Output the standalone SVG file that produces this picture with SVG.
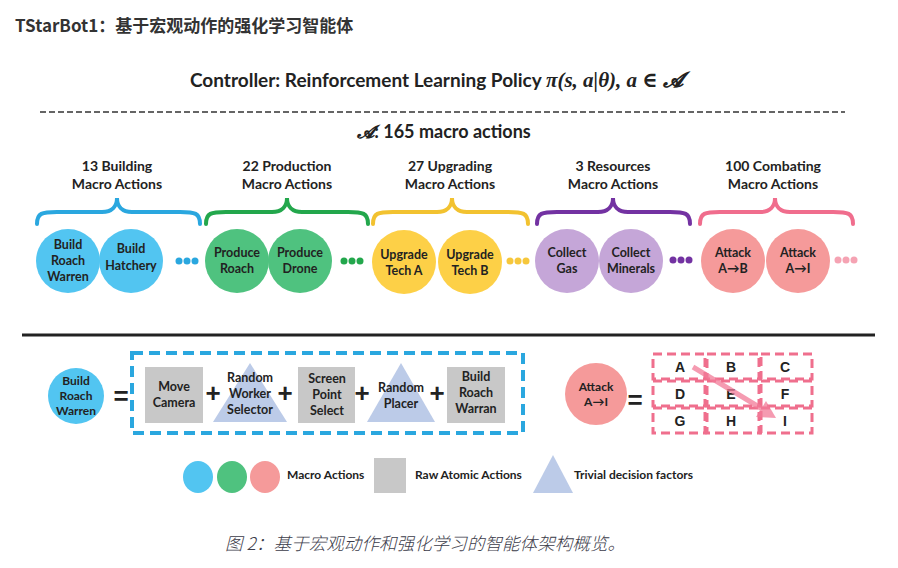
<svg xmlns="http://www.w3.org/2000/svg" width="898" height="568" viewBox="0 0 898 568">
<style>
text{font-family:Lato,"Open Sans","Noto Sans CJK SC",sans-serif;font-weight:bold;fill:#222;text-anchor:middle}
.ct{font-size:12.5px}
.gl{font-size:14px}
.br{fill:none;stroke-width:4;stroke-linecap:round}
.box{fill:#c8c8c8}
.tri{fill:#bccbe8}
.op{font-size:26px;font-family:"Liberation Sans",sans-serif}
.cell{fill:none;stroke:#ef6f8d;stroke-width:3;stroke-dasharray:9 5}
.gt{font-size:14px;font-family:"Liberation Sans",sans-serif}
.lg{font-size:12px;text-anchor:start}
.math{font-family:'Liberation Serif','DejaVu Serif',serif;font-style:italic}
</style>
<rect width="898" height="568" fill="#fff"/>
<text x="15" y="32" style="font-family:'Noto Sans CJK SC',sans-serif;font-size:17px;text-anchor:start;fill:#333">TStarBot1：基于宏观动作的强化学习智能体</text>
<text x="190" y="87" style="font-size:19px;text-anchor:start">Controller: Reinforcement Learning Policy <tspan class="math" style="font-size:21px">π(s, a|θ), a ∈ 𝓐</tspan></text>
<line x1="40" y1="112" x2="845" y2="112" stroke="#333" stroke-width="1.5" stroke-dasharray="6 3"/>
<text x="444" y="138" style="font-size:18px"><tspan class="math">𝓐</tspan>: 165 macro actions</text>

<g id="connectors">
<path class="br" stroke="#2aa7df" d="M37,224 C37,213 42,212 57,212 L102,212 C112,212 117,206 117,198 C117,206 122,212 132,212 L180,212 C195,212 200,213 200,224"/>
<path class="br" stroke="#23a74c" d="M206,224 C206,213 211,212 226,212 L272,212 C282,212 287,206 287,198 C287,206 292,212 302,212 L348,212 C363,212 368,213 368,224"/>
<path class="br" stroke="#f2c230" d="M373,224 C373,213 378,212 393,212 L437,212 C447,212 452,206 452,198 C452,206 457,212 467,212 L508,212 C523,212 528,213 528,224"/>
<path class="br" stroke="#7332a2" d="M537,224 C537,213 542,212 557,212 L598,212 C608,212 613,206 613,198 C613,206 618,212 628,212 L670,212 C685,212 690,213 690,224"/>
<path class="br" stroke="#f06d8d" d="M700,224 C700,213 705,212 720,212 L760,212 C770,212 775,206 775,198 C775,206 780,212 790,212 L833,212 C848,212 853,213 853,224"/>
</g>

<g id="groupLabels">
<text class="gl" x="117" y="171">13 Building</text><text class="gl" x="117" y="189">Macro Actions</text>
<text class="gl" x="287" y="171">22 Production</text><text class="gl" x="287" y="189">Macro Actions</text>
<text class="gl" x="450" y="171">27 Upgrading</text><text class="gl" x="450" y="189">Macro Actions</text>
<text class="gl" x="613" y="171">3 Resources</text><text class="gl" x="613" y="189">Macro Actions</text>
<text class="gl" x="773" y="171">100 Combating</text><text class="gl" x="773" y="189">Macro Actions</text>
</g>

<g id="build-roach-warren"><circle cx="68" cy="261" r="32" fill="#52c5f1"/><text class="ct" x="68" y="249">Build</text><text class="ct" x="68" y="265">Roach</text><text class="ct" x="68" y="281">Warren</text></g>
<g id="build-hatchery"><circle cx="131" cy="261" r="32" fill="#52c5f1"/><text class="ct" x="131" y="253">Build</text><text class="ct" x="131" y="270">Hatchery</text></g>
<g id="dots-blue" fill="#2aa7df"><circle cx="179" cy="261" r="3.5"/><circle cx="187" cy="261" r="3.5"/><circle cx="195" cy="261" r="3.5"/></g>
<g id="produce-roach"><circle cx="237" cy="261" r="32" fill="#4fc27f"/><text class="ct" x="237" y="257">Produce</text><text class="ct" x="237" y="273">Roach</text></g>
<g id="produce-drone"><circle cx="300" cy="261" r="32" fill="#4fc27f"/><text class="ct" x="300" y="257">Produce</text><text class="ct" x="300" y="273">Drone</text></g>
<g id="dots-green" fill="#23a74c"><circle cx="344" cy="261" r="3.5"/><circle cx="352" cy="261" r="3.5"/><circle cx="360" cy="261" r="3.5"/></g>
<g id="upgrade-tech-a"><circle cx="404" cy="262" r="32" fill="#fdd047"/><text class="ct" x="404" y="259">Upgrade</text><text class="ct" x="404" y="275">Tech A</text></g>
<g id="upgrade-tech-b"><circle cx="470" cy="262" r="32" fill="#fdd047"/><text class="ct" x="470" y="259">Upgrade</text><text class="ct" x="470" y="275">Tech B</text></g>
<g id="dots-yellow" fill="#f6c73c"><circle cx="510" cy="261" r="3.5"/><circle cx="518" cy="261" r="3.5"/><circle cx="526" cy="261" r="3.5"/></g>
<g id="collect-gas"><circle cx="567" cy="261" r="32" fill="#c5a6d8"/><text class="ct" x="567" y="257">Collect</text><text class="ct" x="567" y="273">Gas</text></g>
<g id="collect-minerals"><circle cx="631" cy="261" r="32" fill="#c5a6d8"/><text class="ct" x="631" y="257">Collect</text><text class="ct" x="631" y="273">Minerals</text></g>
<g id="dots-purple" fill="#7332a2"><circle cx="673" cy="260" r="3.5"/><circle cx="681" cy="260" r="3.5"/><circle cx="689" cy="260" r="3.5"/></g>
<g id="attack-a-b"><circle cx="733" cy="261" r="32" fill="#f59a9a"/><text class="ct" x="733" y="257">Attack</text><text class="ct" x="733" y="273">A→B</text></g>
<g id="attack-a-i"><circle cx="798" cy="261" r="32" fill="#f59a9a"/><text class="ct" x="798" y="257">Attack</text><text class="ct" x="798" y="273">A→I</text></g>
<g id="dots-pink" fill="#f5a3b3"><circle cx="838" cy="260" r="3.5"/><circle cx="846" cy="260" r="3.5"/><circle cx="854" cy="260" r="3.5"/></g>

<line x1="22" y1="335" x2="875" y2="335" stroke="#222" stroke-width="3"/>

<g id="brw-decomp">
<circle cx="76" cy="396" r="28" fill="#52c5f1"/>
<text class="ct" x="76" y="385" style="font-size:12px">Build</text><text class="ct" x="76" y="400" style="font-size:12px">Roach</text><text class="ct" x="76" y="415" style="font-size:12px">Warren</text>
<text class="op" x="121" y="405">=</text>
<rect x="132" y="353" width="391" height="80" fill="none" stroke="#2aa7df" stroke-width="4" stroke-dasharray="11 6"/>
<rect class="box" x="145" y="367" width="58" height="56"/>
<text class="ct" x="174" y="391">Move</text><text class="ct" x="174" y="407">Camera</text>
<polygon class="tri" points="250,363 287,422 213,422"/>
<text class="ct" x="250" y="382">Random</text><text class="ct" x="250" y="398">Worker</text><text class="ct" x="250" y="414">Selector</text>
<rect class="box" x="298" y="367" width="57" height="56"/>
<text class="ct" x="327" y="383">Screen</text><text class="ct" x="327" y="399">Point</text><text class="ct" x="327" y="415">Select</text>
<polygon class="tri" points="401,363 435,422 367,422"/>
<text class="ct" x="401" y="392">Random</text><text class="ct" x="401" y="408">Placer</text>
<rect class="box" x="447" y="367" width="58" height="56"/>
<text class="ct" x="476" y="381">Build</text><text class="ct" x="476" y="397">Roach</text><text class="ct" x="476" y="413">Warran</text>
<text class="op" x="213" y="402">+</text>
<text class="op" x="285" y="402">+</text>
<text class="op" x="362" y="402">+</text>
<text class="op" x="437" y="402">+</text>
</g>

<g id="attack-decomp">
<circle cx="596" cy="394" r="31" fill="#f59a9a"/>
<text class="ct" x="596" y="391" style="font-size:12px">Attack</text><text class="ct" x="596" y="406" style="font-size:12px">A→I</text>
<text class="op" x="635" y="409">=</text>
<rect class="cell" x="653" y="354" width="52" height="25"/>
<rect class="cell" x="707" y="354" width="52" height="25"/>
<rect class="cell" x="761" y="354" width="51" height="25"/>
<rect class="cell" x="653" y="381" width="52" height="25"/>
<rect class="cell" x="707" y="381" width="52" height="25"/>
<rect class="cell" x="761" y="381" width="51" height="25"/>
<rect class="cell" x="653" y="408" width="52" height="25"/>
<rect class="cell" x="707" y="408" width="52" height="25"/>
<rect class="cell" x="761" y="408" width="51" height="25"/>
<text class="gt" x="680" y="372">A</text><text class="gt" x="731" y="372">B</text><text class="gt" x="785" y="372">C</text>
<text class="gt" x="680" y="399">D</text><text class="gt" x="731" y="399">E</text><text class="gt" x="785" y="399">F</text>
<text class="gt" x="680" y="426">G</text><text class="gt" x="731" y="426">H</text><text class="gt" x="785" y="426">I</text>
<g opacity="0.75" fill="#f27a98" stroke="#f27a98">
<line x1="693" y1="367" x2="764" y2="410" stroke-width="5"/>
<polygon points="776,418 756,417 766,401" stroke="none"/>
</g>
</g>

<g id="legend">
<ellipse cx="198" cy="477" rx="15" ry="16" fill="#52c5f1"/>
<ellipse cx="232" cy="477" rx="15" ry="16" fill="#4fc27f"/>
<ellipse cx="265" cy="477" rx="15" ry="16" fill="#f59a9a"/>
<text class="lg" x="287" y="479">Macro Actions</text>
<rect class="box" x="374" y="458" width="32" height="35"/>
<text class="lg" x="415" y="479">Raw Atomic Actions</text>
<polygon class="tri" points="553,455 573,493 533,493"/>
<text class="lg" x="574" y="479">Trivial decision factors</text>
</g>

<text x="225" y="550" textLength="400" lengthAdjust="spacing" style="font-family:'Noto Sans CJK SC',sans-serif;font-weight:300;font-style:italic;font-size:17.5px;fill:#3c3c4a;text-anchor:start">图 2：基于宏观动作和强化学习的智能体架构概览。</text>
</svg>
